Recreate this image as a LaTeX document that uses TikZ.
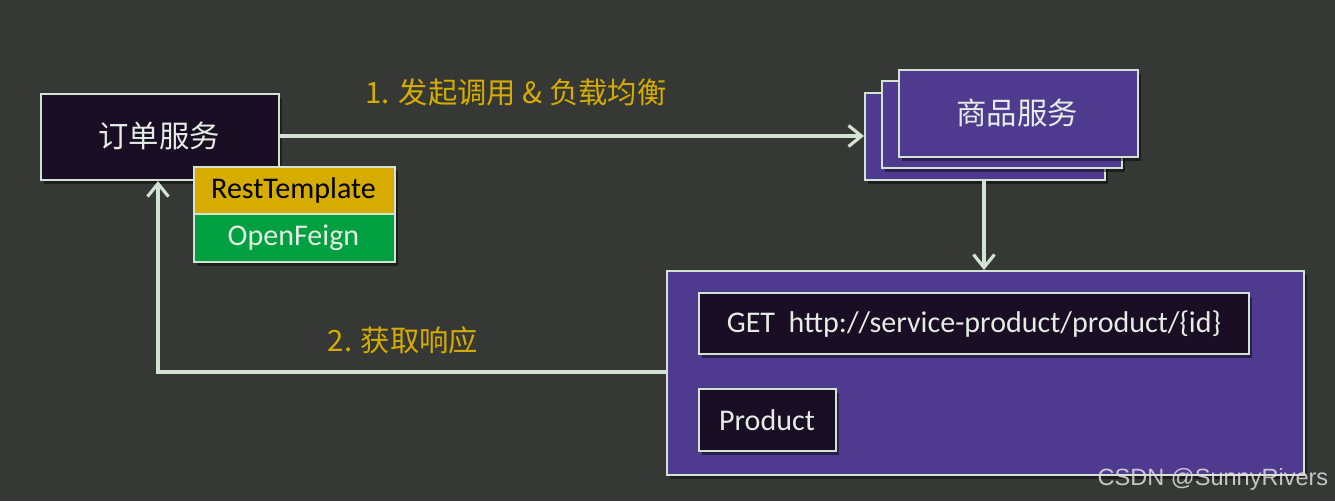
\documentclass[tikz,border=0pt]{standalone}
\usepackage{fontspec}
\setmainfont{Carlito}
\newfontfamily\cjk{Noto Sans CJK SC}
\newfontfamily\wm{Liberation Sans}
\usetikzlibrary{arrows.meta,shadows}
\definecolor{bg}{HTML}{353835}
\definecolor{edge}{HTML}{D3E3D3}
\definecolor{dark}{HTML}{1A0E24}
\definecolor{purp}{HTML}{4E3A8E}
\definecolor{gold}{HTML}{D6AC00}
\definecolor{grn}{HTML}{00A041}
\definecolor{txt}{HTML}{E4ECE4}
\tikzset{
  box/.style={draw=edge, line width=1.2pt, inner sep=0pt, anchor=north west,
    drop shadow={shadow xshift=0.6mm, shadow yshift=-0.8mm, opacity=0.45, fill=black}},
  lbl/.style={text=txt, font=\fontsize{17.1}{19}\selectfont},
  cjklbl/.style={text=txt, font=\cjk\fontsize{17.3}{19}\selectfont},
  conn/.style={draw=edge, line width=1.8pt, -{Straight Barb[length=2.6mm,width=4.2mm,line width=1.8pt]}},
  steplabel/.style={text=gold, font=\cjk\fontsize{16.7}{19}\selectfont}
}
\begin{document}
\begin{tikzpicture}[x=0.02cm,y=-0.02cm]
\fill[bg] (0,0) rectangle (1335,501);
\useasboundingbox (0,0) rectangle (1335,501);
% order service
\node[box, fill=dark, minimum width=238*0.02cm, minimum height=86*0.02cm] (order) at (40,93) {};
\node[cjklbl] (ordert) at (159,136) {订单服务};
% client libs
\node[box, fill=gold, minimum width=201*0.02cm, minimum height=47*0.02cm] (rest) at (193,166) {};
\node[lbl, text=black] (restt) at (293.5,190) {RestTemplate};
\node[box, fill=grn, minimum width=201*0.02cm, minimum height=48*0.02cm] (feign) at (193,213) {};
\node[lbl] (feignt) at (293.5,238) {OpenFeign};
% product service stack
\node[box, fill=purp, minimum width=240*0.02cm, minimum height=87*0.02cm] (p3) at (864,92) {};
\node[box, fill=purp, minimum width=240*0.02cm, minimum height=87*0.02cm] (p2) at (881,80) {};
\node[box, fill=purp, minimum width=239*0.02cm, minimum height=87*0.02cm] (p1) at (898,69) {};
\node[cjklbl] (prodt) at (1017,113) {商品服务};
% big endpoint box
\node[box, fill=purp, minimum width=637*0.02cm, minimum height=204*0.02cm] (api) at (666,270) {};
\node[box, fill=dark, minimum width=550*0.02cm, minimum height=61*0.02cm] (get) at (698,292) {};
\node[lbl] (gett) at (974,324) {GET\ \ http://service-product/product/\{id\}};
\node[box, fill=dark, minimum width=137*0.02cm, minimum height=62*0.02cm] (prod) at (698,388) {};
\node[lbl] (prodtt) at (767,420) {Product};
% connectors
\coordinate (a1s) at (order.east |- 0,136);
\coordinate (a1e) at (p3.west |- 0,136);
\draw[conn] (a1s) -- (a1e);
\coordinate (a2s) at (p3.south -| 984,0);
\coordinate (a2e) at (api.north -| 984,0);
\draw[conn] (a2s) -- (a2e);
\coordinate (a3s) at (api.west |- 0,372);
\coordinate (a3c) at (158,372);
\coordinate (a3e) at (order.south -| 158,0);
\draw[conn] (a3s) -- (a3c) -- (a3e);
% labels
\node[steplabel] (l1) at (516,92) {1. 发起调用 \& 负载均衡};
\node[steplabel] (l2) at (403,340) {2. 获取响应};
\node[text=white!75!gray, font=\wm\fontsize{13.4}{15}\selectfont, opacity=0.85] (wmk) at (1213,479) {CSDN @SunnyRivers};
\end{tikzpicture}
\end{document}
